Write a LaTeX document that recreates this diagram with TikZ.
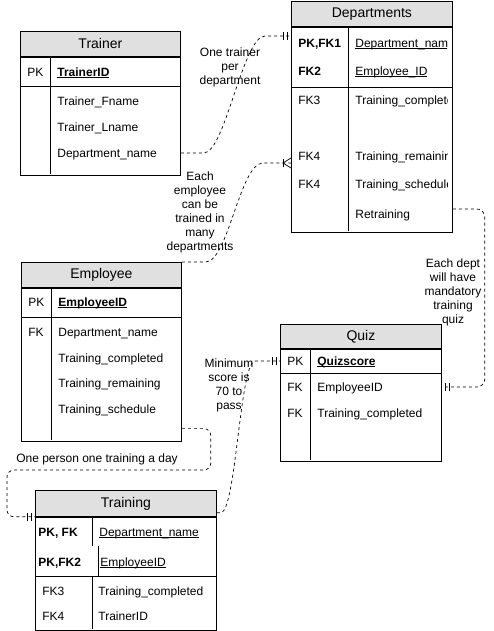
\documentclass[tikz,border=0pt]{standalone}
\usepackage{fontspec}
\setmainfont{Liberation Sans}
\usetikzlibrary{calc,decorations.markings}
\definecolor{hdrgray}{HTML}{E0E0E0}
\newcommand{\keyul}[1]{\setbox0\hbox{#1}\rlap{\rule[-1.8pt]{\wd0}{0.7pt}}\box0}

\tikzset{
  hdr/.style={draw, fill=hdrgray, anchor=north west, inner sep=0pt, font=\fontsize{14}{16}\selectfont},
  tbl/.style={draw, anchor=north west, inner sep=0pt},
  fld/.style={anchor=west, inner sep=0pt, text height=10.5pt, text depth=2pt, font=\fontsize{12}{14}\selectfont},
  note/.style={align=center, inner sep=0pt, font=\fontsize{12}{14}\selectfont},
  rel/.style={line width=0.7pt, dash pattern=on 3pt off 3pt},
  one/.style={postaction={decorate, decoration={markings, mark=at position 1 with {
      \draw[solid, sharp corners, line width=0.7pt] (-4pt,-4pt) -- (-4pt,4pt);
      \draw[solid, sharp corners, line width=0.7pt] (-8pt,-4pt) -- (-8pt,4pt);}}}},
  many/.style={postaction={decorate, decoration={markings, mark=at position 1 with {
      \draw[solid, sharp corners, line width=0.7pt] (-8pt,-4pt) -- (-8pt,4pt);
      \draw[solid, sharp corners, line width=0.7pt] (0pt,-5pt) -- (-8pt,0pt) -- (0pt,5pt);}}}},
}

\begin{document}
\begin{tikzpicture}[x=1pt,y=-1pt,line width=0.8pt]
  \useasboundingbox (0,0) rectangle (493,631);

  % Trainer table
  \node[hdr, minimum width=160pt, minimum height=25pt] (trainerH) at (20,31) {Trainer};
  \node[tbl, minimum width=160pt, minimum height=118pt] (trainer) at (trainerH.south west) {};
  \draw (20,86) -- (180,86);
  \draw (50,56) -- (50,174);
  \node[fld] (trainerPK) at (27,72) {PK};
  \node[fld] (trainerID) at (57,72) {\keyul{\textbf{TrainerID}}};
  \node[fld] (trainerFn) at (57,101) {Trainer\_Fname};
  \node[fld] (trainerLn) at (57,127) {Trainer\_Lname};
  \node[fld] (trainerDep) at (57,153) {Department\_name};

  % Departments table
  \node[hdr, minimum width=161pt, minimum height=25pt] (deptH) at (291,1) {Departments};
  \node[tbl, minimum width=161pt, minimum height=205pt] (dept) at (deptH.south west) {};
  \draw (291,87) -- (452,87);
  \draw (348,26) -- (348,231);
  \node[fld] (deptK1) at (298,43) {\textbf{PK,FK1}};
  \node[fld] (deptK2) at (298,71) {\textbf{FK2}};
  \node[fld] (deptFK3) at (298,100) {FK3};
  \node[fld] (deptFK4) at (298,156) {FK4};
  \node[fld] (deptFK4b) at (298,184) {FK4};
  \begin{scope}
    \clip (348,26) rectangle (447,231);
    \node[fld] (deptName) at (355,43) {\keyul{Department\_name}};
    \node[fld] (deptEmp) at (355,71) {\keyul{Employee\_ID}};
    \node[fld] (deptDone) at (355,100) {Training\_completed};
    \node[fld] (deptLeft) at (355,156) {Training\_remaining};
    \node[fld] (deptSched) at (355,184) {Training\_schedule};
    \node[fld] (deptRetr) at (355,214) {Retraining};
  \end{scope}

  % Employee table
  \node[hdr, minimum width=160pt, minimum height=25pt] (empH) at (21,262) {Employee};
  \node[tbl, minimum width=160pt, minimum height=153pt] (emp) at (empH.south west) {};
  \draw (21,317) -- (181,317);
  \draw (51,287) -- (51,440);
  \node[fld] (empPK) at (28,302) {PK};
  \node[fld] (empFK) at (28,332) {FK};
  \node[fld] (empID) at (58,302) {\keyul{\textbf{EmployeeID}}};
  \node[fld] (empDep) at (58,332) {Department\_name};
  \node[fld] (empDone) at (58,358) {Training\_completed};
  \node[fld] (empLeft) at (58,383) {Training\_remaining};
  \node[fld] (empSched) at (58,409) {Training\_schedule};

  % Quiz table
  \node[hdr, minimum width=161pt, minimum height=24pt] (quizH) at (280,324) {Quiz};
  \node[tbl, minimum width=161pt, minimum height=112pt] (quiz) at (quizH.south west) {};
  \draw (280,373) -- (441,373);
  \draw (310,348) -- (310,460);
  \node[fld] (quizK) at (287,361) {PK};
  \node[fld] (quizK2) at (287,387) {FK};
  \node[fld] (quizK3) at (287,413) {FK};
  \node[fld] (quizPK) at (317,361) {\keyul{\textbf{Quizscore}}};
  \node[fld] (quizEmp) at (317,387) {EmployeeID};
  \node[fld] (quizDone) at (317,413) {Training\_completed};

  % Training table
  \node[hdr, minimum width=181pt, minimum height=26pt] (trainH) at (35,490) {Training};
  \node[tbl, minimum width=181pt, minimum height=113pt] (train) at (trainH.south west) {};
  \draw (35,576) -- (216,576);
  \draw (92,516) -- (92,546);
  \draw (98,546) -- (98,576);
  \draw (92,576) -- (92,629);
  \node[fld] (trainK1) at (38,532) {\textbf{PK, FK}};
  \node[fld] (trainK2) at (38,562) {\textbf{PK,FK2}};
  \node[fld] (trainK3) at (42,591) {FK3};
  \node[fld] (trainK4) at (42,616) {FK4};
  \node[fld] (trainDep) at (99,532) {\keyul{Department\_name}};
  \node[fld] (trainEmp) at (100,562) {\keyul{EmployeeID}};
  \node[fld] (trainDone) at (98,591) {Training\_completed};
  \node[fld] (trainTr) at (98,616) {TrainerID};

  % Notes
  \node[note] (noteTrainer) at (230,67) {One trainer\\per\\department};
  \node[note] (noteEmp) at (200,212) {Each\\employee\\can be\\trained in\\many\\departments};
  \node[note] (noteQuiz) at (453,292) {Each dept\\will have\\mandatory\\training\\quiz};
  \node[note] (noteScore) at (229,385) {Minimum\\score is\\70 to\\pass};
  \node[note] (noteDay) at (97,459) {One person one training a day};

  % Relationships
  \draw[rel, one] (trainer.east |- trainerDep) -- ++(23,0)
    .. controls (225,153) and (243,36) .. (265,36) -- ($(dept.west |- deptK1)+(0,-7)$);
  \draw[rel, many] (empH.north east) -- ++(24,0)
    .. controls (228,262) and (240,163) .. (263,163) -- ($(dept.west |- deptFK4)+(0,7)$);
  \draw[rel, one, rounded corners=8pt] ($(dept.east |- deptRetr)+(0,-5)$) -- ++(32,0) |- (quiz.east |- quizEmp);
  \draw[rel, one] ($(trainH.south east)+(0,-4)$) -- ++(4,0)
    .. controls (236,512) and (240,361) .. (255,361) -- (quiz.west |- quizPK);
  \draw[rel, one, rounded corners=7pt] ($(emp.south east)+(0,-13)$) -- ++(29,0) |- (7,470) |- (trainH.south west);
\end{tikzpicture}
\end{document}
